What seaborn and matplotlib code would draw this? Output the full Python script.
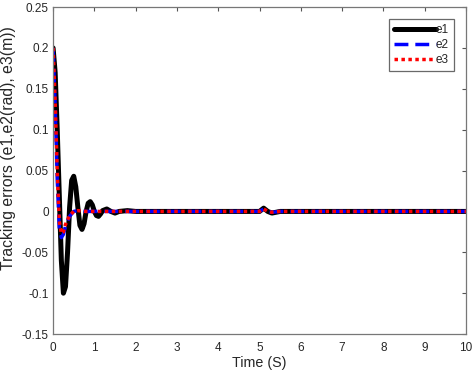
import numpy as np
import pandas as pd
import matplotlib
matplotlib.use('Agg')
import matplotlib.pyplot as plt
import seaborn as sns

# values
t_e1 = [0, 0.05, 0.1, 0.15, 0.2, 0.25, 0.3, 0.35, 0.4, 0.45, 0.5, 0.55, 0.6, 0.65,
        0.7, 0.75, 0.8, 0.85, 0.9, 0.95, 1.0, 1.05, 1.1, 1.15, 1.2, 1.3, 1.4, 1.5,
        1.6, 1.8, 2.0, 5.0, 5.1, 5.2, 5.3, 5.5, 10]
e1 = [0.2, 0.17, 0.1, 0.02, -0.06, -0.1, -0.092, -0.05, 0.005, 0.038, 0.043, 0.03,
      0.005, -0.017, -0.022, -0.015, 0.0, 0.01, 0.012, 0.008, 0.0, -0.005, -0.006,
      -0.003, 0.001, 0.003, 0.0, -0.002, 0.0, 0.001, 0.0, 0.0, 0.004, 0.0, -0.002,
      0.0, 0.0]

t_e2 = [0, 0.05, 0.1, 0.15, 0.2, 0.25, 0.3, 0.4, 0.5, 0.6, 0.8, 5.0, 5.1, 5.2, 5.3, 5.5, 10]
e2 = [0.2, 0.13, 0.04, -0.02, -0.032, -0.028, -0.018, -0.006, 0.0, 0.001, 0.0,
      0.0, 0.003, 0.0, -0.001, 0.0, 0.0]

t_e3 = [0, 0.05, 0.1, 0.15, 0.2, 0.25, 0.3, 0.4, 0.5, 0.6, 0.8, 5.0, 5.1, 5.2, 5.3, 5.5, 10]
e3 = [0.2, 0.135, 0.05, -0.012, -0.027, -0.025, -0.016, -0.005, 0.0, 0.001, 0.0,
      0.0, 0.003, 0.0, -0.001, 0.0, 0.0]

xticks = list(range(0, 11))
yticks = [-0.15, -0.1, -0.05, 0, 0.05, 0.1, 0.15, 0.2, 0.25]
ytick_labels = ['-0.15', '-0.1', '-0.05', '0', '0.05', '0.1', '0.15', '0.2', '0.25']

sns.set_style('white')
plt.rcParams['font.family'] = ['Liberation Sans', 'DejaVu Sans']

fig = plt.figure(figsize=(4.74, 3.72), dpi=100)
ax = fig.add_axes([0.112, 0.102, 0.871, 0.879])

sns.lineplot(x=t_e1, y=e1, ax=ax, color='black', lw=3.6, label='e1')
sns.lineplot(x=t_e2, y=e2, ax=ax, color='#0000ff', lw=2.5, linestyle=(0, (4, 2)), label='e2')
sns.lineplot(x=t_e3, y=e3, ax=ax, color='#ff0000', lw=2.5, linestyle=(0, (1, 1)), label='e3')

ax.set_xlim(0, 10)
ax.set_ylim(-0.15, 0.25)
ax.set_xticks(xticks)
ax.set_yticks(yticks)
ax.set_yticklabels(ytick_labels)
ax.tick_params(direction='in', length=3, width=0.8, color='#555555', labelsize=8.5,
               top=True, right=True)
ax.tick_params(axis='x', pad=6)
ax.tick_params(axis='y', pad=3)
for s in ax.spines.values():
    s.set_color('#777777')
    s.set_linewidth(0.9)

ax.set_xlabel('Time (S)', fontsize=10.3, labelpad=1)
ax.set_ylabel('Tracking errors (e1,e2(rad), e3(m))', fontsize=11.3)
ax.yaxis.set_label_coords(-0.09, 0.57)

leg = ax.legend(loc='upper right', fontsize=8.5, frameon=True, fancybox=False,
                edgecolor='#444444', borderpad=0.45, handlelength=3.5,
                handletextpad=0.0, labelspacing=0.25, borderaxespad=1.0)
leg.get_frame().set_linewidth(0.9)

fig.savefig('out.png', dpi=100)
